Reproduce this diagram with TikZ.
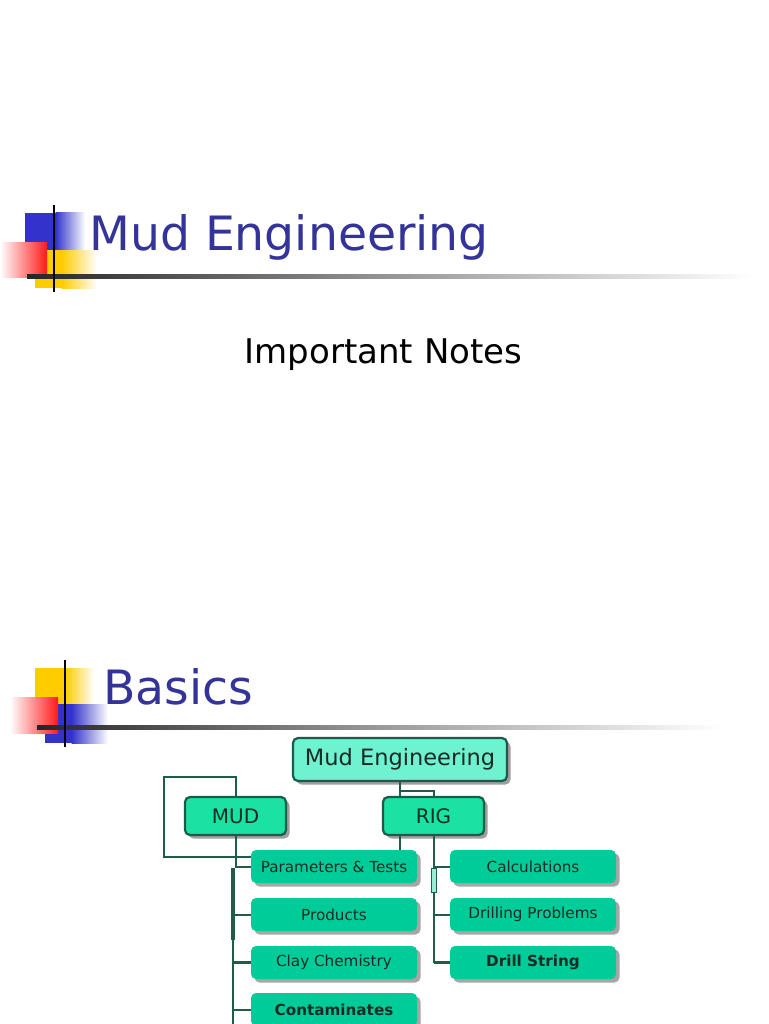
\documentclass[tikz,border=0pt]{standalone}
\usepackage{fontspec}
\setmainfont{DejaVu Sans}
\usetikzlibrary{shadows}
\definecolor{titleblue}{HTML}{333399}
\definecolor{sqblue}{HTML}{3333CC}
\definecolor{sqred}{HTML}{FF1A1A}
\definecolor{sqyellow}{HTML}{FFCC00}
\definecolor{linegreen}{HTML}{1F5C4A}
\definecolor{borderg}{HTML}{1E5A4A}
\definecolor{topfill}{HTML}{6EF2CF}
\definecolor{midfill}{HTML}{1AE2A2}
\definecolor{subfill}{HTML}{00CC99}
\definecolor{txt}{HTML}{1A2A25}
\tikzset{
  box/.style={draw=borderg, line width=2.2pt, rounded corners=5pt, text=txt,
    drop shadow={shadow xshift=3.5pt, shadow yshift=-3.5pt, fill=gray!75, opacity=1},
    inner sep=0pt, align=center},
  topbox/.style={box, fill=topfill, minimum width=214pt, minimum height=43pt, font=\fontsize{22.5}{26}\selectfont},
  midbox/.style={box, fill=midfill, minimum width=101pt, minimum height=38pt, font=\fontsize{20}{24}\selectfont},
  subbox/.style={draw=none, fill=subfill, rounded corners=5pt, text=txt,
    drop shadow={shadow xshift=3.5pt, shadow yshift=-3.5pt, fill=gray!70, opacity=1},
    inner sep=0pt, minimum width=166pt, minimum height=33pt, font=\fontsize{15.2}{18}\selectfont},
  conn/.style={draw=linegreen, line width=2pt},
  title/.style={text=titleblue, inner sep=0pt, anchor=base west, font=\fontsize{47.3}{54}\selectfont}
}
\begin{document}
\begin{tikzpicture}[x=1pt,y=-1pt]
\useasboundingbox (0,0) rectangle (768,1024);
\fill[white] (0,0) rectangle (768,1024);
% ---------- slide 1 decoration ----------
\fill[sqblue] (25,213) rectangle (56,250);
\shade[left color=sqblue, right color=white] (55.5,213) rectangle (85,250);
\fill[sqyellow] (35,250) rectangle (62,288);
\shade[left color=sqyellow, right color=white] (61.5,250) rectangle (97,288);
\shade[left color=white, right color=sqred] (0,242) rectangle (47,277);
\shade[left color=black!85, right color=black!40] (27,274) rectangle (400,278);
\shade[left color=black!40, right color=white] (399.5,274) rectangle (752,278);
\draw[black, line width=2.8pt] (54,205) -- (54,292);
\node[title] (t1) at (89,250) {Mud Engineering};
\node[inner sep=0pt, anchor=base, font=\fontsize{34}{40}\selectfont, text=black] (sub1) at (383.5,363) {Important Notes};
% ---------- slide 2 decoration ----------
\fill[sqyellow] (35,668) rectangle (66,705);
\shade[left color=sqyellow, right color=white] (65.5,668) rectangle (94,705);
\fill[sqblue] (45,704) rectangle (72,743);
\shade[left color=sqblue, right color=white] (71.5,704) rectangle (108,743);
\shade[left color=white, right color=sqred] (10,697) rectangle (58,733);
\shade[left color=black!85, right color=black!40] (37,725) rectangle (380,729);
\shade[left color=black!40, right color=white] (379.5,725) rectangle (722,729);
\draw[black, line width=2.8pt] (65,660) -- (65,747);
\node[title] (t2) at (103,704) {Basics};
% ---------- diagram ----------
\node[topbox] (top) at (400,759.5) {Mud Engineering};
\node[midbox] (mud) at (235.5,816) {MUD};
\node[midbox] (rig) at (433.5,816) {RIG};
\node[subbox] (par) at (334,866.5) {Parameters \& Tests};
\node[subbox] (pro) at (334,914.5) {Products};
\node[subbox] (cla) at (334,962.5) {Clay Chemistry};
\node[subbox] (con) at (334,1009.5) {\bfseries Contaminates};
\node[subbox] (cal) at (533,866.5) {Calculations};
\node[subbox] (dri) at (533,914.5) {Drilling Problems};
\node[subbox] (drs) at (533,962.5) {\bfseries Drill String};
% connectors
\coordinate (loopA) at (235.5,777);
\coordinate (loopB) at (164,777);
\coordinate (loopC) at (164,857);
\coordinate (loopD) at (251,857);
\coordinate (splitA) at (400,791);
\coordinate (splitB) at (433.5,791);
\coordinate (trTop) at (233,868);
\coordinate (trMid) at (233,940);
\coordinate (trBot) at (233,1024);
\draw[conn] (top.south) -- (top.south |- rig.north);
\draw[conn] (splitA) -- (splitB) -- (rig.north);
\draw[conn] (mud.north) -- (loopA) -- (loopB) -- (loopC) -- (loopD);
\draw[conn] (mud.south) |- (par.west);
\draw[draw=linegreen, line width=4pt] (trTop) -- (trMid);
\draw[conn] (trMid) -- (trBot);
\draw[conn] (trTop |- pro.west) -- (pro.west);
\draw[draw=linegreen, line width=3.5pt] (trTop |- cla.west) -- (cla.west);
\draw[conn] (trTop |- con.west) -- (con.west);
\draw[conn] (rig.south -| top.south) -- (par.north -| top.south);
\draw[conn] (rig.south) |- (cal.west);
\draw[conn] (rig.south |- dri.west) -- (dri.west);
\draw[draw=linegreen, line width=3pt] (rig.south |- drs.west) -- (drs.west);
\draw[conn] (rig.south) -- (rig.south |- drs.west);
\filldraw[fill=subfill!40, draw=linegreen, line width=1pt] (431,868) rectangle (436,892);
\end{tikzpicture}
\end{document}
